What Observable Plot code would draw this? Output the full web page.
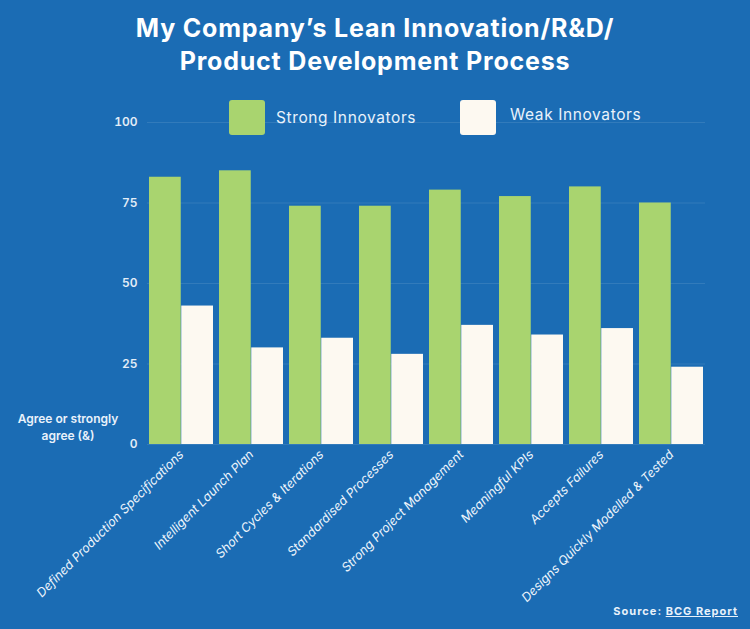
<!DOCTYPE html>
<html>
<head>
<meta charset="utf-8">
<script src="https://cdn.jsdelivr.net/npm/d3@7"></script>
<script src="https://cdn.jsdelivr.net/npm/@observablehq/plot@0.6"></script>
<style>
  html, body { margin: 0; padding: 0; background: #1b6cb4; }
  #wrap { position: relative; width: 750px; height: 629px; background: #1b6cb4; overflow: hidden; font-family: Inter, "Open Sans", sans-serif; color: #fff; }
  #title { position: absolute; left: 0; top: 12px; width: 750px; text-align: center; font-weight: 700; font-size: 25px; line-height: 33px; color: #fff; letter-spacing: 0.8px; }
  #chart { position: absolute; left: 0; top: 80px; }
  .item { position: absolute; top: 100px; display: flex; align-items: center; font-size: 15.5px; letter-spacing: 0.6px; color: #e9f2fb; }
  .sw { width: 36px; height: 35px; border-radius: 3px; display: inline-block; }
  #ylabel { position: absolute; left: 6px; top: 410px; width: 124px; text-align: center; font-size: 12px; line-height: 17px; font-weight: 600; color: #e9f2fb; }
  #source { position: absolute; right: 12px; top: 604px; font-size: 11px; font-weight: 700; letter-spacing: 1px; color: #e9f2fb; }
  #source u { text-decoration: underline; }
</style>
</head>
<body>
<div id="wrap">
  <div id="title">My Company’s Lean Innovation/R&amp;D/<br>Product Development Process</div>
  <div id="chart"></div>
  <div id="ylabel">Agree or strongly<br>agree (&amp;)</div>
  <div id="source">Source: <u>BCG Report</u></div>
</div>
<script>
const categories = [
  "Defined Production Specifications",
  "Intelligent Launch Plan",
  "Short Cycles & Iterations",
  "Standardised Processes",
  "Strong Project Management",
  "Meaningful KPIs",
  "Accepts Failures",
  "Designs Quickly Modelled & Tested"
];
const series = ["Strong Innovators", "Weak Innovators"];
const strong = [83, 85, 74, 74, 79, 77, 80, 75];
const weak = [43, 30, 33, 28, 37, 34, 36, 24];
const yTicks = [0, 25, 50, 75, 100];
const colors = ["#a9d46f", "#fdf9f1"];

const strongData = categories.map((c, i) => ({category: c, value: strong[i]}));
const weakData = categories.map((c, i) => ({category: c, value: weak[i]}));

const W = 750, H = 549, ML = 147, MR = 45, MT = 42, MB = 185;
const pad = 0.085;
const step = (W - ML - MR) / (categories.length - pad);
const half = step * (1 - pad) / 2;

const chart = Plot.plot({
  width: W,
  height: H,
  marginLeft: ML,
  marginRight: MR,
  marginTop: MT,
  marginBottom: MB,
  style: {background: "transparent", color: "#e9f2fb", fontFamily: "Inter, 'Open Sans', sans-serif"},
  x: {domain: categories, paddingInner: pad, paddingOuter: 0, label: null},
  y: {domain: [0, 100], label: null},
  marks: [
    Plot.gridY(yTicks, {stroke: "#ffffff", strokeOpacity: 0.1}),
    Plot.barY(strongData, {x: "category", y: "value", fill: colors[0], insetRight: half}),
    Plot.barY(weakData, {x: "category", y: "value", fill: colors[1], insetLeft: half}),
    Plot.axisY(yTicks, {tickSize: 0, tickPadding: 10, fontSize: 12, fontWeight: 600, fill: "#e3edf7", label: null}),
    Plot.axisX({tickSize: 0, tickPadding: 8, tickRotate: -45, fontSize: 12.5, fontStyle: "italic", fill: "#eef5fc", label: null})
  ]
});
document.getElementById("chart").appendChild(chart);

const wrap = document.getElementById("wrap");
const legendLeft = [229, 460];
series.forEach((s, i) => {
  const item = document.createElement("div");
  item.className = "item";
  item.style.left = legendLeft[i] + "px";
  const sw = document.createElement("span");
  sw.className = "sw";
  sw.style.background = colors[i];
  const t = document.createElement("span");
  t.textContent = s;
  t.style.marginLeft = i === 0 ? "11px" : "14px";
  t.style.position = "relative";
  t.style.top = i === 0 ? "0px" : "-3px";
  item.appendChild(sw);
  item.appendChild(t);
  wrap.appendChild(item);
});
</script>
</body>
</html>
